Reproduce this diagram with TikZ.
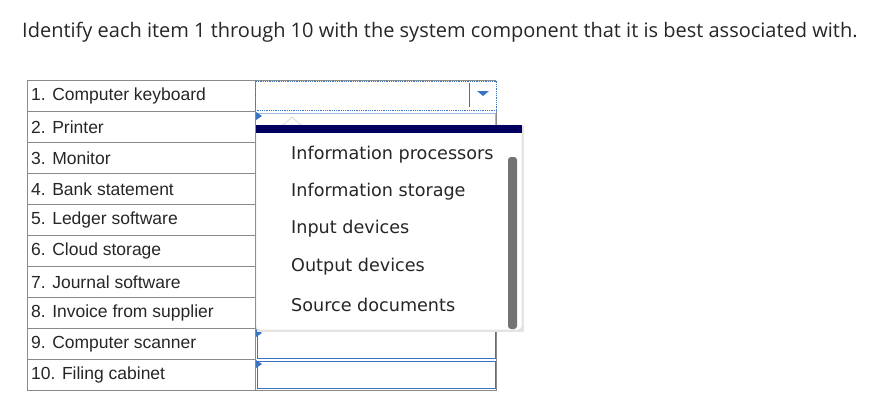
\documentclass[tikz,border=0pt]{standalone}
\usepackage{fontspec}
\setmainfont{Liberation Sans}
\newfontfamily\titlefont{Open Sans}
\newfontfamily\itemfont{DejaVu Sans}
\definecolor{bord}{HTML}{8A8A8A}
\definecolor{blu}{HTML}{3A74C0}
\definecolor{navy}{HTML}{02005F}
\begin{document}
\begin{tikzpicture}[x=1pt,y=-1pt,
  lab/.style={anchor=west,inner sep=0pt,font=\fontsize{17.5}{20}\selectfont,text=black!85},
  itm/.style={anchor=west,inner sep=0pt,font=\itemfont\fontsize{17.6}{20}\selectfont,text=black!85},
  mark/.style={fill=blu}]
\useasboundingbox (0,0) rectangle (874,415);
\node[anchor=west,inner sep=0pt,font=\titlefont\fontsize{20}{23}\selectfont,text=black!85] (title) at (22,32) {Identify each item 1 through 10 with the system component that it is best associated with.};
% table
\foreach \i/\t in {1/1. Computer keyboard,2/2. Printer,3/3. Monitor,4/4. Bank statement,5/5. Ledger software,6/6. Cloud storage,7/7. Journal software,8/8. Invoice from supplier,9/9. Computer scanner,10/10. Filing cabinet}{
  \draw[bord] (27,{80+(\i-1)*31}) rectangle (255,{80+\i*31});
  \node[lab] (r\i) at (31,{80+(\i-1)*31+16}) {\t};
}
\draw[bord] (255,80) -- (496,80);
\draw[bord] (496,111) -- (496,390) -- (255,390);
% answer boxes
\draw[blu,thick] (257,330) rectangle (495,358);
\draw[blu,thick] (257,361) rectangle (495,388);
\draw[blu!50,thick] (257,113) -- (495,113) -- (495,125);
\foreach \y in {111,328,359}{\fill[blu] (256,\y+1) -- (262,\y+5) -- (256,\y+9) -- cycle;}
% dropdown active
\draw[blu,densely dotted,thick] (255,81) rectangle (496,110);
\draw[blu] (469,83) -- (469,107);
\fill[blu] (477,91) -- (489,91) -- (483,96) -- cycle;
\draw[black!25] (283,125) -- (292,117) -- (301,125);
% popup
\fill[black!10] (257,126) rectangle (524,332);
\draw[black!25,fill=white,rounded corners=3pt] (256,125) rectangle (522,330);
\fill[navy] (256,125) rectangle (522,133);
\fill[black!55,rounded corners=3pt] (508,157) rectangle (517,329);
\node[itm] (a) at (291,155) {Information processors};
\node[itm] (b) at (291,192) {Information storage};
\node[itm] (c) at (291,229) {Input devices};
\node[itm] (d) at (291,267) {Output devices};
\node[itm] (e) at (291,305) {Source documents};
\end{tikzpicture}
\end{document}
